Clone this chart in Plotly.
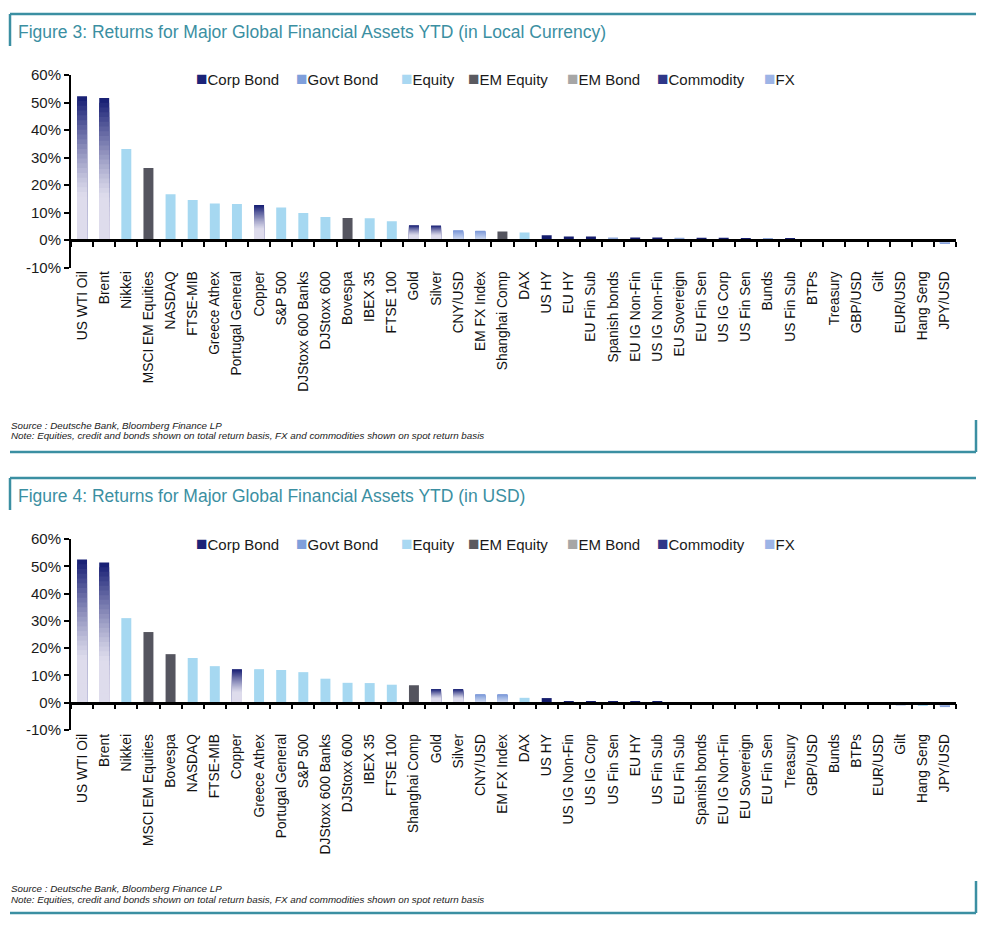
import plotly.graph_objects as go

# ---------------- data ----------------
cats_local = ["US WTI Oil", "Brent", "Nikkei", "MSCI EM Equities", "NASDAQ", "FTSE-MIB",
              "Greece Athex", "Portugal General", "Copper", "S&P 500", "DJStoxx 600 Banks",
              "DJStoxx 600", "Bovespa", "IBEX 35", "FTSE 100", "Gold", "Silver", "CNY/USD",
              "EM FX Index", "Shanghai Comp", "DAX", "US HY", "EU HY", "EU Fin Sub",
              "Spanish bonds", "EU IG Non-Fin", "US IG Non-Fin", "EU Sovereign", "EU Fin Sen",
              "US IG Corp", "US Fin Sen", "Bunds", "US Fin Sub", "BTPs", "Treasury", "GBP/USD",
              "Gilt", "EUR/USD", "Hang Seng", "JPY/USD"]
vals_local = [52.3, 51.6, 33.1, 26.2, 16.6, 14.5, 13.3, 13.1, 12.7, 11.8, 9.8, 8.4, 8.0, 7.9,
              6.8, 5.4, 5.3, 3.5, 3.4, 3.1, 2.7, 1.7, 1.3, 1.3, 0.9, 0.9, 0.9, 0.8, 0.8, 0.8,
              0.5, 0.4, 0.4, 0.3, 0.1, -0.1, -0.2, -0.3, -0.4, -1.5]
cls_local = ["Commodity", "Commodity", "Equity", "EM Equity", "Equity", "Equity", "Equity",
             "Equity", "Commodity", "Equity", "Equity", "Equity", "EM Equity", "Equity", "Equity",
             "Commodity", "Commodity", "FX", "FX", "EM Equity", "Equity", "Corp Bond", "Corp Bond",
             "Corp Bond", "Govt Bond", "Corp Bond", "Corp Bond", "Govt Bond", "Corp Bond",
             "Corp Bond", "Corp Bond", "Govt Bond", "Corp Bond", "Govt Bond", "Govt Bond", "FX",
             "Govt Bond", "FX", "Equity", "FX"]

cats_usd = ["US WTI Oil", "Brent", "Nikkei", "MSCI EM Equities", "Bovespa", "NASDAQ", "FTSE-MIB",
            "Copper", "Greece Athex", "Portugal General", "S&P 500", "DJStoxx 600 Banks",
            "DJStoxx 600", "IBEX 35", "FTSE 100", "Shanghai Comp", "Gold", "Silver", "CNY/USD",
            "EM FX Index", "DAX", "US HY", "US IG Non-Fin", "US IG Corp", "US Fin Sen", "EU HY",
            "US Fin Sub", "EU Fin Sub", "Spanish bonds", "EU IG Non-Fin", "EU Sovereign",
            "EU Fin Sen", "Treasury", "GBP/USD", "Bunds", "BTPs", "EUR/USD", "Gilt", "Hang Seng",
            "JPY/USD"]
vals_usd = [52.5, 51.4, 31.0, 25.9, 17.8, 16.4, 13.4, 12.3, 12.3, 12.0, 11.2, 8.8, 7.3, 7.2,
            6.6, 6.4, 5.0, 5.0, 3.1, 3.1, 1.8, 1.7, 0.6, 0.6, 0.6, 0.6, 0.5, 0.1, 0.1, 0.1, 0.0,
            0.0, 0.0, -0.1, -0.2, -0.4, -0.8, -1.0, -1.2, -1.6]
cls_usd = ["Commodity", "Commodity", "Equity", "EM Equity", "EM Equity", "Equity", "Equity",
           "Commodity", "Equity", "Equity", "Equity", "Equity", "Equity", "Equity", "Equity",
           "EM Equity", "Commodity", "Commodity", "FX", "FX", "Equity", "Corp Bond", "Corp Bond",
           "Corp Bond", "Corp Bond", "Corp Bond", "Corp Bond", "Corp Bond", "Govt Bond",
           "Corp Bond", "Govt Bond", "Corp Bond", "Govt Bond", "FX", "Govt Bond", "Govt Bond",
           "FX", "Govt Bond", "Equity", "FX"]

classes = ["Corp Bond", "Govt Bond", "Equity", "EM Equity", "EM Bond", "Commodity", "FX"]
y_ticks = [-10, 0, 10, 20, 30, 40, 50, 60]
y_tick_labels = ["-10%", "0%", "10%", "20%", "30%", "40%", "50%", "60%"]

# ---------------- styling ----------------
W, H = 990, 929
SOLID = {"Corp Bond": "#141c6c", "Govt Bond": "#8fa7d8", "Equity": "#a6d8f1",
         "EM Equity": "#55555f", "EM Bond": "#a4a4aa"}
LEGEND_COL = {"Corp Bond": "#1b2378", "Govt Bond": "#7f9fdb", "Equity": "#a9d8f2",
              "EM Equity": "#5a5a60", "EM Bond": "#a6a6a6", "Commodity": "#2e3788",
              "FX": "#9db4e6"}
# legend item left edges (px) in the reference
LEGEND_X = [197, 297, 402, 469, 568, 658, 765]
GRAD = {"Commodity": ((19, 27, 114), (222, 220, 236), 0.3),
        "FX": ((118, 148, 214), (208, 218, 241), 0.0)}
NSEG = 30
TEAL = "#3b8fa2"
FONT = "Arial, Liberation Sans, sans-serif"


def grad_color(cls, t):
    dark, light, off = GRAD[cls]
    f = min(max((t - off) / (1 - off), 0.0), 1.0) ** 1.2
    c = [round(light[i] + (dark[i] - light[i]) * f) for i in range(3)]
    return "rgb(%d,%d,%d)" % tuple(c)


def px_y(py):
    return 1 - py / H


fig = go.Figure()

X_DOM = [71 / W, 956 / W]
panels = [
    dict(cats=cats_local, vals=vals_local, cls=cls_local, xa="x", ya="y",
         xkey="xaxis", ykey="yaxis", legend_y=78,
         ydom=[px_y(267.5), px_y(75)]),
    dict(cats=cats_usd, vals=vals_usd, cls=cls_usd, xa="x2", ya="y2",
         xkey="xaxis2", ykey="yaxis2", legend_y=543,
         ydom=[px_y(730), px_y(539)]),
]

annotations = []
for p in panels:
    cats, vals, cl = p["cats"], p["vals"], p["cls"]
    # solid bars
    for c in ["Corp Bond", "Govt Bond", "Equity", "EM Equity", "EM Bond"]:
        ys = [v if k == c else None for v, k in zip(vals, cl)]
        if all(y is None for y in ys):
            continue
        fig.add_trace(go.Bar(x=cats, y=ys, xaxis=p["xa"], yaxis=p["ya"], showlegend=False,
                             marker=dict(color=SOLID[c], line=dict(width=0)), name=c))
    # gradient bars: tallest (darkest) first, shorter lighter ones drawn on top
    for c in ["Commodity", "FX"]:
        for k in range(NSEG - 1, -1, -1):
            ys = [v * (k + 1) / NSEG if kk == c else None for v, kk in zip(vals, cl)]
            fig.add_trace(go.Bar(x=cats, y=ys, xaxis=p["xa"], yaxis=p["ya"], showlegend=False,
                                 marker=dict(color=grad_color(c, (k + 0.5) / NSEG),
                                             line=dict(width=0)),
                                 name=c, hoverinfo="skip"))

    ymin, ymax = -10, 60
    d0, d1 = p["ydom"]
    zero_pos = d0 + (0 - ymin) / (ymax - ymin) * (d1 - d0)
    fig.layout[p["ykey"]] = dict(
        domain=p["ydom"], range=[ymin, ymax], tickvals=y_ticks, ticktext=y_tick_labels,
        showgrid=False, zeroline=False, showline=True, linecolor="black", linewidth=2,
        ticks="outside", ticklen=5, tickwidth=1.5, tickcolor="black",
        tickfont=dict(family=FONT, size=15, color="#1a1a1a"), anchor=p["xa"],
        fixedrange=True)
    fig.layout[p["xkey"]] = dict(
        domain=X_DOM, type="category", categoryorder="array", categoryarray=cats,
        range=[-0.5, len(cats) - 0.5], anchor="free", position=zero_pos,
        showline=True, linecolor="black", linewidth=2.5, showgrid=False, zeroline=False,
        ticks="outside", ticklen=5, tickwidth=1.5, tickcolor="black", tickson="boundaries",
        tickangle=-90, ticklabelstandoff=24,
        tickfont=dict(family=FONT, size=13.8, color="#111111"), fixedrange=True)

    # legend (text items with coloured square glyph)
    for c, lx in zip(classes, LEGEND_X):
        annotations.append(dict(
            text="<span style='color:%s;font-size:19px'>■</span>%s" % (LEGEND_COL[c], c),
            x=(lx - 2) / W, y=px_y(p["legend_y"]), xref="paper", yref="paper",
            xanchor="left", yanchor="middle", showarrow=False, borderpad=0,
            font=dict(family=FONT, size=15, color="#1a1a1a")))

fig.update_layout(
    width=W, height=H, margin=dict(l=0, r=0, t=0, b=0, autoexpand=False),
    paper_bgcolor="white", plot_bgcolor="white", barmode="overlay", bargap=0.55,
    showlegend=False,
)

# titles, frames and notes
titles = ["Figure 3: Returns for Major Global Financial Assets YTD (in Local Currency)",
          "Figure 4: Returns for Major Global Financial Assets YTD (in USD)"]
notes = ["Source : Deutsche Bank, Bloomberg Finance LP",
         "Note: Equities, credit and bonds shown on total return basis, FX and commodities shown on spot return basis"]
frames = [dict(top=14, bottom=452, title_y=32, note_y=425),
          dict(top=478, bottom=913, title_y=496, note_y=888)]

shapes = []
for t, fr in zip(titles, frames):
    annotations.append(dict(text=t, x=16 / W, y=px_y(fr["title_y"]), xref="paper", yref="paper",
                            xanchor="left", yanchor="middle", showarrow=False,
                            font=dict(family=FONT, size=17.5, color=TEAL)))
    for i, n in enumerate(notes):
        annotations.append(dict(text="<i>" + n + "</i>", x=9 / W,
                                y=px_y(fr["note_y"] + 11 * i), xref="paper", yref="paper",
                                xanchor="left", yanchor="middle", showarrow=False,
                                font=dict(family="Liberation Sans Narrow, Arial Narrow, " + FONT,
                                          size=9.8, color="#222222")))
    line = dict(color=TEAL, width=2.5)
    shapes.append(dict(type="line", xref="paper", yref="paper", x0=10 / W, x1=976 / W,
                       y0=px_y(fr["top"]), y1=px_y(fr["top"]), line=line))
    shapes.append(dict(type="line", xref="paper", yref="paper", x0=10 / W, x1=10 / W,
                       y0=px_y(fr["top"]), y1=px_y(fr["top"] + 32), line=line))
    shapes.append(dict(type="line", xref="paper", yref="paper", x0=10 / W, x1=976 / W,
                       y0=px_y(fr["bottom"]), y1=px_y(fr["bottom"]), line=line))
    shapes.append(dict(type="line", xref="paper", yref="paper", x0=976 / W, x1=976 / W,
                       y0=px_y(fr["bottom"] - 32), y1=px_y(fr["bottom"]), line=line))

fig.update_layout(shapes=shapes, annotations=annotations)

fig.write_html("out.html", config={"displayModeBar": False})
